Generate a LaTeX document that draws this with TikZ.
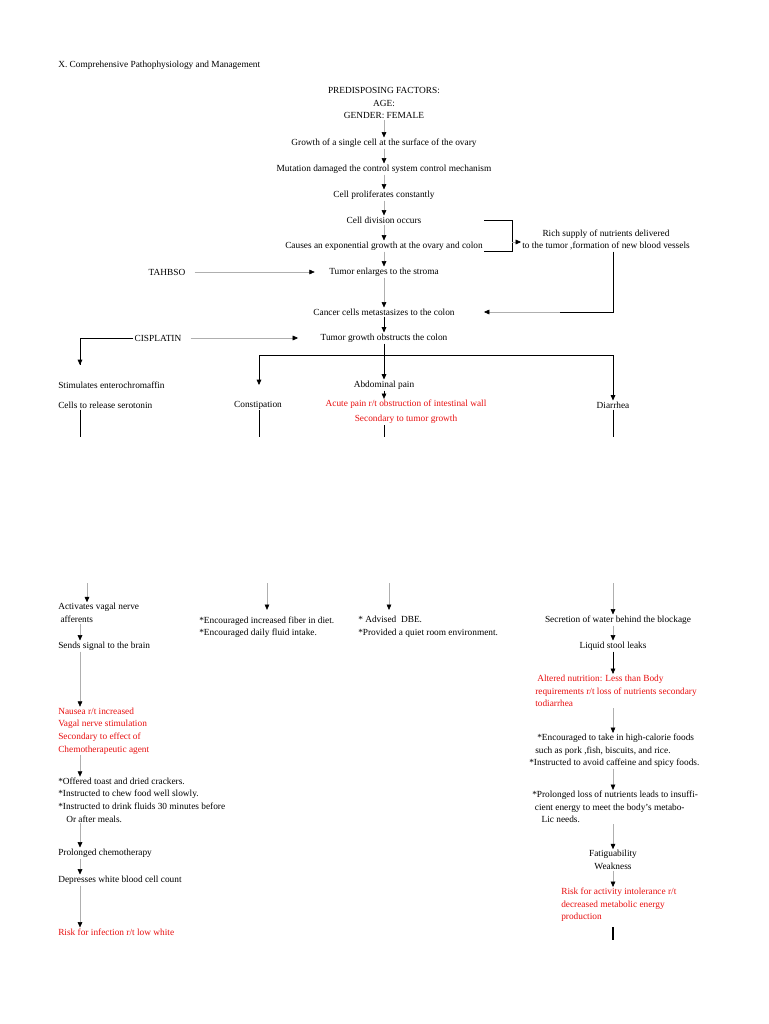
\documentclass[tikz,border=0pt]{standalone}
\usepackage{fontspec}
\setmainfont{Liberation Serif}
\usepackage{xcolor}
\usetikzlibrary{arrows.meta}

\definecolor{dxred}{RGB}{232,16,16}
\definecolor{lnfaint}{RGB}{175,175,175}

\tikzset{
  txt/.style={inner sep=0.75pt, font=\fontsize{7}{9.4}\selectfont, align=center},
  lft/.style={txt, anchor=west, align=left},
  dx/.style={text=dxred},
  arr/.style={draw=lnfaint, line width=0.4pt, -{Triangle[black,length=4pt,width=3.5pt]}},
  arrk/.style={draw=black, line width=0.5pt, -{Triangle[black,length=4pt,width=3.5pt]}},
  ln/.style={draw=black, line width=0.5pt},
}

\begin{document}
\begin{tikzpicture}[x=0.75pt,y=0.75pt,yscale=-1,xscale=1]
\path[use as bounding box, fill=white] (0,0) rectangle (768,1024);

% Text Node
\node[lft] (title) at (57,65) {X. Comprehensive Pathophysiology and Management};
% central chain
\node[txt] (factors) at (384,103) {PREDISPOSING FACTORS:\\AGE:\\GENDER: FEMALE};
\node[txt] (growth) at (384,143) {Growth of a single cell at the surface of the ovary};
\node[txt] (mutation) at (384,169) {Mutation damaged the control system control mechanism};
\node[txt] (prolif) at (384,195) {Cell proliferates constantly};
\node[txt] (division) at (384,220) {Cell division occurs};
\node[txt] (expo) at (384,246) {Causes an exponential growth at the ovary and colon};
\node[txt] (stroma) at (384,272) {Tumor enlarges to the stroma};
\node[txt] (tahbso) at (167,272) {TAHBSO};
\node[txt] (supply) at (606,240) {Rich supply of nutrients delivered\\to the tumor ,formation of new blood vessels};
\node[txt] (meta) at (384,312) {Cancer cells metastasizes to the colon};
\node[txt] (obstruct) at (384,338) {Tumor growth obstructs the colon};
\node[txt] (cisplatin) at (158,338) {CISPLATIN};

% branches
\node[lft] (stim) at (57,385) {Stimulates enterochromaffin};
\node[lft] (sero) at (57,405) {Cells to release serotonin};
\node[txt] (constip) at (258,405) {Constipation};
\node[txt] (abdpain) at (384,385) {Abdominal pain};
\node[txt,dx] (acute) at (406,412) {Acute pain r/t obstruction of intestinal wall\\[2pt]Secondary to tumor growth};
\node[txt] (diarrhea) at (613,405) {Diarrhea};

% left column
\node[lft] (vagal) at (57,613) {Activates vagal nerve\\\ afferents};
\node[lft] (signal) at (57,646) {Sends signal to the brain};
\node[lft,dx] (nausea) at (57,731) {Nausea r/t increased\\Vagal nerve stimulation\\Secondary to effect of\\Chemotherapeutic agent};
\node[lft] (toast) at (57,800) {*Offered toast and dried crackers.\\*Instructed to chew food well slowly.\\*Instructed to drink fluids 30 minutes before\\\hspace{6pt}Or after meals.};
\node[lft] (chemo) at (57,853) {Prolonged chemotherapy};
\node[lft] (wbc) at (57,880) {Depresses white blood cell count};
\node[lft,dx] (infect) at (57,932) {Risk for infection r/t low white};

% middle columns
\node[lft] (fiber) at (198,627) {*Encouraged increased fiber in diet.\\*Encouraged daily fluid intake.};
\node[lft] (dbe) at (357,627) {* Advised\ \ DBE.\\*Provided a quiet room environment.};

% right column
\node[txt] (secretion) at (618,620) {Secretion of water behind the blockage};
\node[txt] (stool) at (613,646) {Liquid stool leaks};
\node[lft,dx] (altered) at (534,691) {\hspace{1.5pt}Altered nutrition: Less than Body\\requirements r/t loss of nutrients secondary\\todiarrhea};
\node[lft] (calorie) at (528,751) {\hspace{6pt}*Encouraged to take in high-calorie foods\\\hspace{4.5pt}such as pork ,fish, biscuits, and rice.\\*Instructed to avoid caffeine and spicy foods.};
\node[lft] (loss) at (531,807) {*Prolonged loss of nutrients leads to insuffi-\\\hspace{2pt}cient energy to meet the body's metabo-\\\hspace{7pt}Lic needs.};
\node[txt] (fatigue) at (613,860) {Fatiguability\\Weakness};
\node[lft,dx] (activity) at (560,905) {Risk for activity intolerance r/t\\decreased metabolic energy\\production};

% helper points
\coordinate (colL) at (80,0);
\coordinate (colR) at (613,0);
\coordinate (brkTop) at (484,220);
\coordinate (brkBot) at (484,251);
\coordinate (brkSide) at (512,0);
\coordinate (metaIn) at (484,312);
\coordinate (branchL) at (259,355);
\coordinate (branchR) at (613,355);
\coordinate (constipIn) at (259,385);
\coordinate (cisDown) at (80,365);
\coordinate (stubA) at (80,437);
\coordinate (stubB) at (259,437);
\coordinate (stubC) at (384,437);
\coordinate (stubD) at (613,437);
\coordinate (gapA) at (87,583);
\coordinate (gapB) at (267,583);
\coordinate (gapC) at (389,583);
\coordinate (gapD) at (613,583);
\coordinate (tailEnd) at (613,940);

% central arrows
\draw[arr] (factors) -- (growth);
\draw[arr] (growth) -- (mutation);
\draw[arr] (mutation) -- (prolif);
\draw[arr] (prolif) -- (division);
\draw[arr] (division) -- (expo);
\draw[arr] (expo) -- (stroma);
\draw[arr] (stroma) -- (meta);
\draw[arrk] (meta) -- (obstruct);
\draw[arr, shorten <=6pt, shorten >=10pt] (tahbso) -- (stroma);

% bracket to supply, back to metastasis
\draw[ln] (brkTop) -- (brkTop -| brkSide) -- (brkBot -| brkSide) -- (brkBot);
\draw[arr] (brkSide |- supply.west) ++(0,2) -- (supply.west |- 0,242);
\draw[ln] (supply.south -| colR) -- (metaIn -| colR) -- (560,312);
\draw[arr] (560,312) -- (metaIn);

% cisplatin
\draw[ln] (cisplatin.west) -| (cisDown);
\draw[arrk] (cisDown) ++(0,-6) -- (cisDown);
\draw[arr, shorten <=6pt, shorten >=16pt] (cisplatin) -- (obstruct);

% obstruction branches
\draw[ln] (obstruct.south) -- (obstruct.south |- branchL);
\draw[ln] (branchL) -- (branchR);
\draw[arrk] (branchL) -- (constipIn);
\draw[arrk] (obstruct.south |- branchL) -- (abdpain.north);
\draw[arrk] (branchR) -- (diarrhea.north);
\draw[arrk] (abdpain.south) -- (abdpain.south |- acute.north);

% stubs under branches
\draw[ln] (stubA |- sero.south) -- (stubA);
\draw[ln] (constip.south -| stubB) -- (stubB);
\draw[ln] (acute.south -| stubC) -- (stubC);
\draw[ln] (diarrhea.south) -- (stubD);

% arrows entering lower half
\draw[arr] (gapA) -- (gapA |- vagal.north);
\draw[arr] (gapB) -- ([yshift=-4]gapB |- fiber.north);
\draw[arr] (gapC) -- ([yshift=-4]gapC |- dbe.north);
\draw[arr] (gapD) -- (secretion.north -| colR);

% left chain
\draw[arr] (vagal.south -| colL) -- (signal.north -| colL);
\draw[arr] (signal.south -| colL) -- (nausea.north -| colL);
\draw[arr] (nausea.south -| colL) -- (toast.north -| colL);
\draw[arr] (toast.south -| colL) -- (chemo.north -| colL);
\draw[arr] (chemo.south -| colL) -- (wbc.north -| colL);
\draw[arr] (wbc.south -| colL) -- (infect.north -| colL);

% right chain
\draw[arr] (secretion.south -| colR) -- (stool.north);
\draw[arrk] (stool.south) -- (altered.north -| colR);
\draw[arr] (altered.south -| colR) -- (calorie.north -| colR);
\draw[arr] (calorie.south -| colR) -- (loss.north -| colR);
\draw[arr] (loss.south -| colR) -- (fatigue.north);
\draw[arr] (fatigue.south) -- (activity.north -| colR);
\draw[ln, line width=1pt] (activity.south -| colR) ++(0,4) -- (tailEnd);

\end{tikzpicture}
\end{document}
